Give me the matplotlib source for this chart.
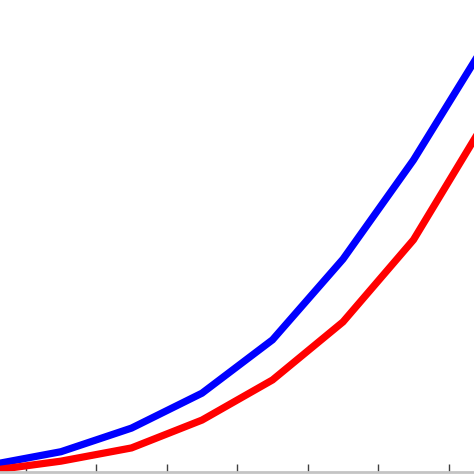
import matplotlib
matplotlib.use('Agg')
import matplotlib.pyplot as plt

# data (x = step, y = value)
steps = [0, 1, 2, 3, 4, 5, 6, 7]
blue_vals = [1.5, 4.3, 9.3, 16.7, 28.0, 45.1, 66.1, 90.3]
red_vals = [0.3, 2.3, 5.1, 11.0, 19.5, 31.8, 49.2, 73.9]
tick_pos = [0.5, 1.5, 2.5, 3.5, 4.5, 5.5, 6.5]

fig = plt.figure(figsize=(4.74, 4.74), dpi=100)
ax = fig.add_axes([0, 2 / 474, 1, 472 / 474])

ax.plot(steps, blue_vals, color='#0000ff', linewidth=5.2, solid_joinstyle='miter')
ax.plot(steps, red_vals, color='#ff0000', linewidth=5.2, solid_joinstyle='miter')

ax.set_xlim(0.135, 6.858)
ax.set_ylim(0, 100)

for side in ['top', 'left', 'right']:
    ax.spines[side].set_visible(False)
ax.spines['bottom'].set_color('#c4c4c4')
ax.spines['bottom'].set_linewidth(2)

ax.set_xticks(tick_pos)
ax.set_xticklabels([])
ax.set_yticks([])
ax.tick_params(axis='x', direction='in', length=6, width=1, color='#404040')

fig.savefig('out.png', dpi=100)
